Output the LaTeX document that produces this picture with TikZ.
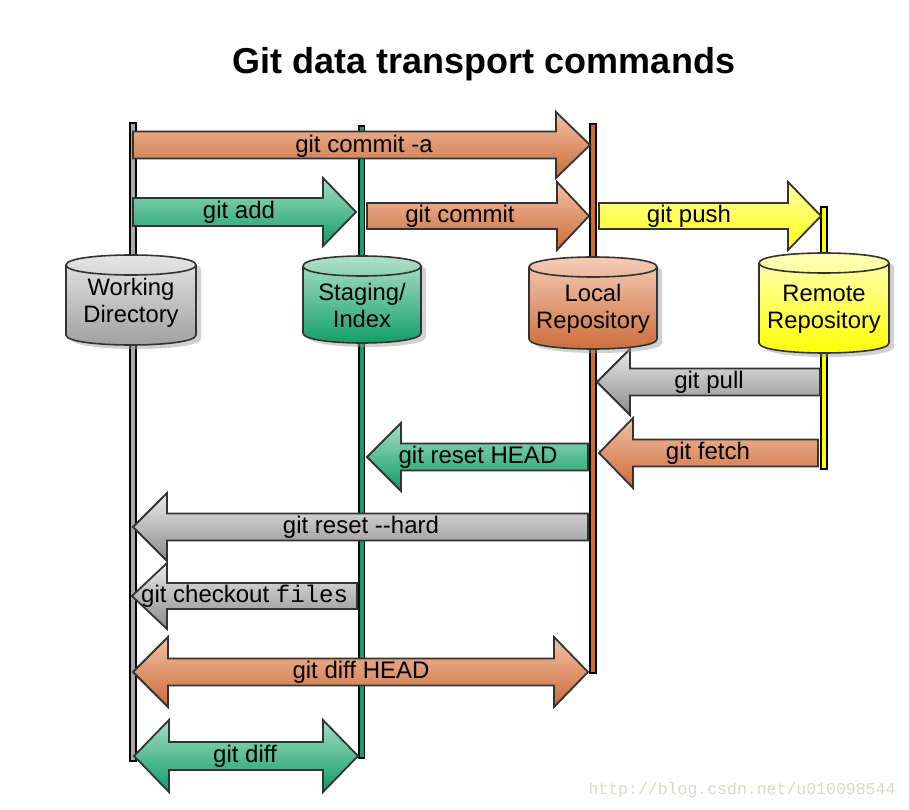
\documentclass[tikz,border=0pt]{standalone}
\usepackage{fontspec}
\setmainfont{Liberation Sans}
\newfontfamily\monof{Liberation Mono}
\begin{document}
\begin{tikzpicture}[x=1pt,y=-1pt,
  lbl/.style={font=\fontsize{24}{28}\selectfont, inner sep=0pt, text=black},
  cyltxt/.style={font=\fontsize{23.8}{27}\selectfont, inner sep=0pt, align=center},
  blk/.style={draw=black!80, line width=1.8pt, line join=miter},
  orangeA/.style={blk, top color=orT, bottom color=orB},
  greenA/.style={blk, top color=grT, bottom color=grB},
  grayA/.style={blk, top color=gyT, bottom color=gyB},
  yellowA/.style={blk, top color=yeT, bottom color=yeB},
  life/.style={draw=black, line width=1.2pt}
]
\definecolor{orT}{HTML}{F2C2A6}
\definecolor{orB}{HTML}{CC6A38}
\definecolor{grT}{HTML}{A6DCC6}
\definecolor{grB}{HTML}{0C9C68}
\definecolor{gyT}{HTML}{EAEAEA}
\definecolor{gyB}{HTML}{8A8A8A}
\definecolor{yeT}{HTML}{FFFFA8}
\definecolor{yeB}{HTML}{FFFF10}
\definecolor{orL}{HTML}{D06A30}
\definecolor{grL}{HTML}{10A070}
\definecolor{gyL}{HTML}{A8A8A8}
\definecolor{yeL}{HTML}{FFFF00}
\definecolor{wm}{HTML}{D9D9D0}

\newcommand\blkArrow[7]{% start, headback, tip, yc, bodyhalf, headhalf, style
  \path[#7] (#1,{#4-#5}) -- (#2,{#4-#5}) -- (#2,{#4-#6}) -- (#3,#4) -- (#2,{#4+#6}) -- (#2,{#4+#5}) -- (#1,{#4+#5}) -- cycle;}
\newcommand\blkDouble[8]{% lefttip, lefthb, righthb, righttip, yc, bodyhalf, headhalf, style
  \path[#8] (#1,#5) -- (#2,{#5-#7}) -- (#2,{#5-#6}) -- (#3,{#5-#6}) -- (#3,{#5-#7}) -- (#4,#5) -- (#3,{#5+#7}) -- (#3,{#5+#6}) -- (#2,{#5+#6}) -- (#2,{#5+#7}) -- cycle;}
\newcommand\gitCyl[6]{% cx, halfw, top, bottom, topcolor, bottomcolor
  \path[fill=black!40, opacity=.45, shift={(5,4)}]
    ({#1-#2},{#3+10}) -- ({#1-#2},{#4-10}) .. controls ({#1-#2},{#4+3.33}) and ({#1+#2},{#4+3.33}) .. ({#1+#2},{#4-10})
    -- ({#1+#2},{#3+10}) .. controls ({#1+#2},{#3-3.33}) and ({#1-#2},{#3-3.33}) .. cycle;
  \path[draw=black!80, line width=1.6pt, top color=#5, bottom color=#6]
    ({#1-#2},{#3+10}) -- ({#1-#2},{#4-10}) .. controls ({#1-#2},{#4+3.33}) and ({#1+#2},{#4+3.33}) .. ({#1+#2},{#4-10})
    -- ({#1+#2},{#3+10}) .. controls ({#1+#2},{#3-3.33}) and ({#1-#2},{#3-3.33}) .. cycle;
  \draw[black!80, line width=1.6pt] ({#1-#2},{#3+10}) .. controls ({#1-#2},{#3+23.33}) and ({#1+#2},{#3+23.33}) .. ({#1+#2},{#3+10});}

\useasboundingbox (0,0) rectangle (909,810);
\fill[white] (0,0) rectangle (909,810);

% title
\node[font=\bfseries\fontsize{36}{40}\selectfont, inner sep=0pt] (title) at (484,64) {Git data transport commands};

% lifelines (behind the arrows)
\path[life, fill=gyL] (130,123) rectangle (136,761);
\path[life, fill=grL] (359,126) rectangle (364.5,758);
\path[life, fill=orL] (590,124) rectangle (596,673);
\path[life, fill=yeL] (821,207) rectangle (827,469);

% block arrows
\blkArrow{133}{556}{590}{145}{13.5}{33}{orangeA}
\node[lbl] (commita) at (364,146) {git commit -a};
\blkArrow{133}{323}{356}{212}{14}{34}{greenA}
\node[lbl] (add) at (239,212) {git add};
\blkArrow{367}{557}{589}{216}{13}{34}{orangeA}
\node[lbl] (commit) at (460,216) {git commit};
\blkArrow{599}{788}{821}{216}{13}{34}{yellowA}
\node[lbl] (push) at (689,216) {git push};
\blkArrow{820}{630}{597}{382}{13.5}{33}{grayA}
\node[lbl] (pull) at (709,382) {git pull};
\blkArrow{818}{633}{599}{453}{13.5}{35}{orangeA}
\node[lbl] (fetch) at (708,453) {git fetch};
\blkArrow{588}{401}{367}{457}{13.5}{34}{greenA}
\node[lbl] (resethead) at (478,457) {git reset HEAD};
\blkArrow{588}{167}{133}{527}{13.5}{34}{grayA}
\node[lbl] (resethard) at (361,527) {git reset -{}-hard};
\blkArrow{357}{167}{132}{596}{13}{33}{grayA}
\node[lbl, anchor=west] (checkout) at (141,596) {git checkout {\monof files}};
\blkDouble{133}{168}{554}{588}{672}{13.5}{35}{orangeA}
\node[lbl] (diffhead) at (361,672) {git diff HEAD};
\blkDouble{134}{169}{323}{358}{756}{14}{36}{greenA}
\node[lbl] (diff) at (245,756) {git diff};

% cylinders
\gitCyl{131}{65}{255}{345}{black!9}{black!38}
\node[cyltxt] (wd) at (131,303) {Working\\Directory};
\gitCyl{362}{59}{256}{343}{grT!80!white}{grB}
\node[cyltxt] (si) at (362,305) {Staging/\\Index};
\gitCyl{593}{64}{257}{349}{orT!75!white}{orB}
\node[cyltxt] (lr) at (593,309) {Local\\Repository};
\gitCyl{824}{65}{253}{353}{yeT!70!white}{yeL}
\node[cyltxt] (rr) at (824,309) {Remote\\Repository};

% watermark
\node[font=\monof\fontsize{16.5}{18}\selectfont, text=wm, inner sep=0pt] (wmk) at (742,790) {http://blog.csdn.net/u010098544};
\end{tikzpicture}
\end{document}
